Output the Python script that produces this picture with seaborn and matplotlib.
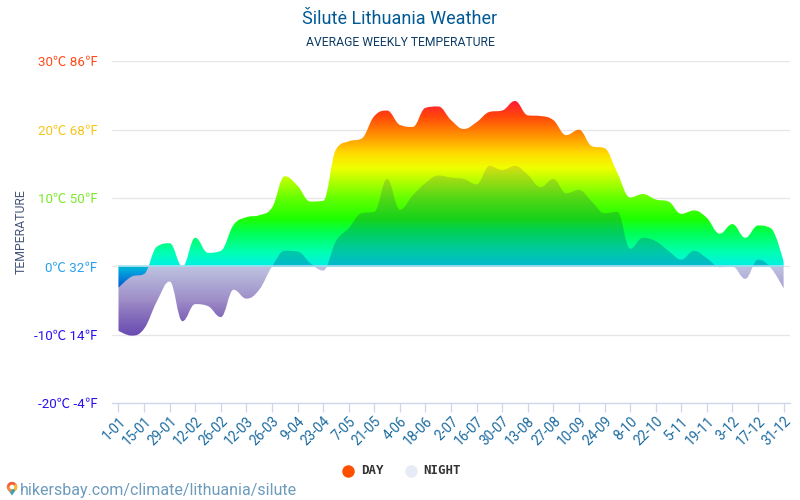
import numpy as np
import pandas as pd
import matplotlib
matplotlib.use("Agg")
import matplotlib.pyplot as plt
import seaborn as sns
from matplotlib.colors import LinearSegmentedColormap
from matplotlib.lines import Line2D
from matplotlib.patches import Circle, PathPatch, Polygon, Wedge
from matplotlib.path import Path
from matplotlib.transforms import IdentityTransform

# weekly values, degrees C
day_temp = [-3.1, -1.5, -1.1, 2.9, 3.4, 0.0, 4.2, 2.0, 2.3, 6.1, 7.2, 7.5, 8.6, 13.2,
            11.8, 9.5, 9.6, 17.1, 18.3, 18.7, 22.0, 22.8, 20.7, 20.4, 23.2, 23.4, 21.4,
            20.1, 21.1, 22.6, 22.8, 24.2, 22.1, 22.0, 21.4, 19.2, 20.0, 17.6, 17.3, 13.7,
            10.1, 10.6, 9.8, 9.5, 7.7, 8.2, 7.1, 4.8, 6.2, 4.2, 6.0, 5.6, 0.7]
night_temp = [-9.4, -10.1, -9.1, -5.1, -2.2, -8.0, -5.5, -5.8, -7.4, -3.4, -4.7, -3.4, 0.0, 2.3,
              2.2, 0.5, -0.6, 3.7, 5.6, 7.8, 8.0, 12.8, 8.3, 10.4, 12.2, 13.3, 13.0,
              12.8, 12.0, 14.7, 14.1, 14.7, 13.4, 11.6, 12.8, 10.7, 11.2, 9.5, 7.8, 8.0,
              2.6, 4.2, 3.7, 2.3, 1.0, 2.3, 1.2, -0.1, 0.0, -1.8, 1.0, -0.2, -3.2]
date_labels = ['1-01', '15-01', '29-01', '12-02', '26-02', '12-03', '26-03', '9-04', '23-04',
               '7-05', '21-05', '4-06', '18-06', '2-07', '16-07', '30-07', '13-08', '27-08',
               '10-09', '24-09', '8-10', '22-10', '5-11', '19-11', '3-12', '17-12', '31-12']
y_values = [30, 20, 10, 0, -10, -20]
y_labels = ['30℃ 86℉', '20℃ 68℉', '10℃ 50℉', '0℃ 32℉', '-10℃ 14℉', '-20℃ -4℉']
y_colors = ['#ff4a1a', '#f5c518', '#7be82a', '#2aa0ee', '#2a10ee', '#2a10ee']

W, H = 800, 500
TEXT_FONT = ['Roboto', 'Noto Sans CJK SC', 'DejaVu Sans']

sns.set_theme(style="white", rc={"axes.facecolor": "white", "figure.facecolor": "white"})
plt.rcParams['font.family'] = TEXT_FONT


def px(x, y):
    return x / W, 1 - y / H


def spline_path(xs, ys, base=0.0):
    # same bezier smoothing as a highcharts areaspline
    verts = [(xs[0], base), (xs[0], ys[0])]
    codes = [Path.MOVETO, Path.LINETO]
    n = len(xs)
    right = (xs[0], ys[0])
    for i in range(1, n):
        x, y = xs[i], ys[i]
        if i < n - 1:
            lx = (1.5 * x + xs[i - 1]) / 2.5
            ly = (1.5 * y + ys[i - 1]) / 2.5
            rx = (1.5 * x + xs[i + 1]) / 2.5
            ry = (1.5 * y + ys[i + 1]) / 2.5
            corr = (ry - ly) * (rx - x) / (rx - lx) + y - ry
            ly += corr
            ry += corr
            if ly > ys[i - 1] and ly > y:
                ly = max(ys[i - 1], y)
                ry = 2 * y - ly
            elif ly < ys[i - 1] and ly < y:
                ly = min(ys[i - 1], y)
                ry = 2 * y - ly
            if ry > ys[i + 1] and ry > y:
                ry = max(ys[i + 1], y)
                ly = 2 * y - ry
            elif ry < ys[i + 1] and ry < y:
                ry = min(ys[i + 1], y)
                ly = 2 * y - ry
        else:
            lx, ly, rx, ry = x, y, x, y
        verts += [right, (lx, ly), (x, y)]
        codes += [Path.CURVE4] * 3
        right = (rx, ry)
    verts += [(xs[-1], base), (xs[0], base)]
    codes += [Path.LINETO, Path.CLOSEPOLY]
    return Path(verts, codes)


def gradient_fill(ax, path, stops, zorder):
    low, high = stops[0][0], stops[-1][0]
    cmap = LinearSegmentedColormap.from_list(
        'grad', [((v - low) / (high - low), c) for v, c in stops], N=512)
    vals = np.linspace(0, 1, 512).reshape(-1, 1)
    x0, x1 = ax.get_xlim()
    im = ax.imshow(cmap(vals), origin='lower', aspect='auto', interpolation='bilinear',
                   extent=(x0, x1, low, high), zorder=zorder)
    patch = PathPatch(path, transform=ax.transData, facecolor='none', edgecolor='none')
    ax.add_patch(patch)
    im.set_clip_path(patch)
    ax.set_xlim(x0, x1)


day_stops = [(-10, '#2800c8'), (-3.5, '#0078ff'), (-0.5, '#00e6ff'), (0, '#00f0e6'),
             (2, '#00ffb4'), (5, '#00ff50'), (7, '#1eff00'), (10, '#64ff00'), (14.4, '#f0ff00'),
             (16.5, '#ffdc00'), (19, '#ff9600'), (22, '#ff460a'), (24.5, '#ff1440'), (30, '#ff0066')]
night_stops = [(-10.5, (0.27, 0.12, 0.63, 0.82)), (-5, (0.16, 0.0, 0.51, 0.45)),
               (0, (0.0, 0.063, 0.533, 0.25)), (5, (0.0, 0.063, 0.533, 0.2)),
               (15, (0.0, 0.063, 0.533, 0.13))]

week = np.arange(len(day_temp))
df = pd.DataFrame({'week': np.r_[week, week], 'temp': day_temp + night_temp,
                   'series': ['DAY'] * len(week) + ['NIGHT'] * len(week)})

fig = plt.figure(figsize=(W / 100, H / 100), dpi=100)
ax = fig.add_axes([112 / W, 1 - 403.3 / H, (790 - 112) / W, (403.3 - 61.3) / H])

# lines carry no ink, they just tie the axes to the data
sns.lineplot(data=df, x='week', y='temp', hue='series', linewidth=0, legend=False, ax=ax)
ax.set_xlim(-0.508, 52.5)
ax.set_ylim(-20, 30)

gradient_fill(ax, spline_path(week, day_temp), day_stops, zorder=2)
gradient_fill(ax, spline_path(week, night_temp), night_stops, zorder=3)
ax.plot([0, 52], [0, 0], color='#a8e0f0', lw=1.2, zorder=4, solid_capstyle='butt')

ax.set_xlabel('')
ax.set_ylabel('')
ax.spines[['top', 'right', 'left']].set_visible(False)
ax.spines['bottom'].set_color('#ccd6eb')
ax.spines['bottom'].set_linewidth(0.9)
ax.set_yticks(y_values)
ax.set_yticklabels(y_labels, fontsize=9.6)
for lab, col in zip(ax.get_yticklabels(), y_colors):
    lab.set_color(col)
ax.tick_params(axis='y', length=0, pad=10)
ax.grid(axis='y', color='#e6e6e6', lw=0.9, zorder=1)
ax.set_axisbelow(True)
ax.set_xticks(week[::2])
ax.set_xticklabels(date_labels, fontsize=9.8, color='#1a6a9f', rotation=45, ha='right',
                   rotation_mode='anchor')
ax.tick_params(axis='x', length=6.5, width=0.9, color='#ccd6eb', pad=1.5, bottom=True)

x, y = px(400, 19)
fig.text(x, y, 'Šilutė Lithuania Weather', fontsize=13, color='#005a96', ha='center', va='center')
x, y = px(400, 42)
fig.text(x, y, 'AVERAGE WEEKLY TEMPERATURE', fontsize=8.7, color='#0d3c66', ha='center', va='center')
x, y = px(21.5, 232)
fig.text(x, y, 'TEMPERATURE', fontsize=8.8, color='#44567a', rotation=90, ha='center', va='center')

# legend
for cx, name, col, tx in [(348, 'DAY', '#ff5000', 361), (410.5, 'NIGHT', '#e6ebf5', 423)]:
    x, y = px(cx, 471)
    fig.add_artist(Line2D([x], [y], marker='o', ms=9, mfc=col, mec=col, mew=0, ls='none',
                          transform=fig.transFigure))
    x, y = px(tx, 471)
    fig.text(x, y, name, fontsize=8.9, family='DejaVu Sans Mono', weight='bold', color='#333333',
             va='center')

# footer with the map pin
x, y = px(20, 490)
fig.text(x, y, 'hikersbay.com/climate/lithuania/silute', fontsize=11.5, color='#6c9bbb', va='center')
pin_y = H - 487
to_px = IdentityTransform()
fig.add_artist(Polygon([(7.5, pin_y - 2), (16.5, pin_y - 2), (12, pin_y - 8.5)], closed=True,
                       fc='#3f9fb0', ec='none', transform=to_px))
fig.add_artist(Wedge((12, pin_y), 5.2, -30, 200, fc='#f2603c', ec='none', transform=to_px))
fig.add_artist(Wedge((12, pin_y), 5.2, -50, 40, fc='#f7b733', ec='none', transform=to_px))
fig.add_artist(Wedge((12, pin_y), 5.2, 170, 260, fc='#f28a3c', ec='none', transform=to_px))
fig.add_artist(Circle((12, pin_y), 2.3, fc='white', ec='none', transform=to_px))

fig.savefig('out.png', dpi=100)
